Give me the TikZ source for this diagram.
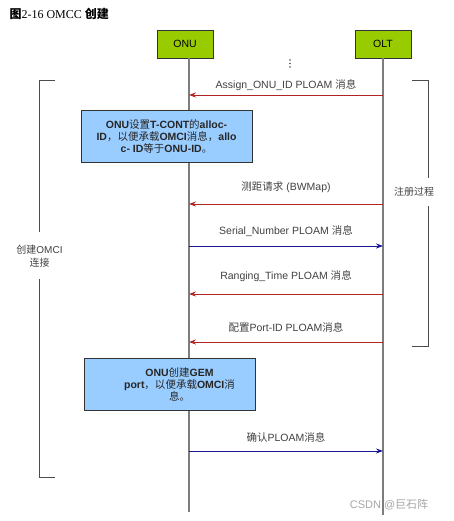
\documentclass[tikz,border=0pt]{standalone}
\usepackage{fontspec}
\setmainfont{Liberation Sans}
\newfontfamily\cjk{Noto Sans CJK SC}
\newfontfamily\capserif{Liberation Serif}
\usetikzlibrary{positioning,arrows.meta}

\definecolor{entitygreen}{RGB}{153,204,0}
\definecolor{notefill}{RGB}{153,204,255}
\definecolor{downred}{RGB}{176,36,36}
\definecolor{upblue}{RGB}{24,24,150}
\definecolor{lifegray}{RGB}{125,125,125}
\definecolor{labelgray}{RGB}{64,64,64}
\newcommand{\zh}[1]{{\cjk\mdseries #1}}

\tikzstyle{entity} = [rectangle, text centered, draw=black!80, fill=entitygreen, minimum width=56pt, minimum height=28pt, font=\fontsize{10.5}{12}\selectfont]
\tikzstyle{note} = [rectangle, align=center, draw=black!80, fill=notefill, minimum width=171pt, minimum height=52pt, text=black!85, font=\fontsize{10.5}{12}\selectfont\bfseries]
\tikzstyle{lifeline} = [draw=lifegray, line width=1.4pt]
\tikzstyle{arrow} = [line width=0.9pt,->,>={Stealth[length=7pt,width=5pt]}]
\tikzstyle{msg} = [text=labelgray, font=\fontsize{10.5}{12}\selectfont]
\tikzstyle{bracket} = [draw=black!70, line width=0.9pt]
\tikzstyle{group} = [align=center, text=labelgray, font=\fontsize{10}{13}\selectfont]

\begin{document}
\begin{tikzpicture}[x=1pt, y=-1pt, node distance=198pt]
  \useasboundingbox (0,0) rectangle (454,521);

  \node (title) [anchor=west, font=\fontsize{12}{14}\selectfont\capserif] at (6,14) {{\cjk\bfseries 图}2-16\ OMCC {\cjk\bfseries 创建}};

  \node (onu) [entity] at (185,44) {ONU};
  \node (olt) [entity, right of=onu] {OLT};
  % vertical ellipsis
  \fill [black!70] (290,60) circle (0.9) (290,63.5) circle (0.9) (290,67) circle (0.9);

  \coordinate (onutop) at (189,58);
  \coordinate (onuend) at (189,512);
  \coordinate (olttop) at (383,58);
  \coordinate (oltend) at (383,515);
  \draw [lifeline] (onutop) -- (onuend);
  \draw [lifeline] (olttop) -- (oltend);

  \coordinate (onu-assign) at (189,95);   \coordinate (olt-assign) at (383,95);
  \coordinate (onu-bwmap) at (189,204);   \coordinate (olt-bwmap) at (383,204);
  \coordinate (onu-serial) at (189,246);  \coordinate (olt-serial) at (383,246);
  \coordinate (onu-ranging) at (189,294); \coordinate (olt-ranging) at (383,294);
  \coordinate (onu-portid) at (189,342);  \coordinate (olt-portid) at (383,342);
  \coordinate (onu-ack) at (189,451);     \coordinate (olt-ack) at (383,451);

  \node (tcont) [note] at (166.5,136) {ONU\zh{设置}T-CONT\zh{的}alloc-\\ID\zh{，以便承载}OMCI\zh{消息，}allo\\c- ID\zh{等于}ONU-ID\zh{。}};
  \node (gemport) [note] at (169.5,384.5) {\hspace*{20pt}ONU\zh{创建}GEM\\\hspace*{20pt}port\zh{，以便承载}OMCI\zh{消}\\\hspace*{20pt}\zh{息。}};

  \draw [arrow, downred] (olt-assign) -- node[msg, above=1pt] {Assign\_ONU\_ID PLOAM \zh{消息}} (onu-assign);
  \draw [arrow, downred] (olt-bwmap) -- node[msg, above=8pt] {\zh{测距请求} (BWMap)} (onu-bwmap);
  \draw [arrow, upblue] (onu-serial) -- node[msg, above=6pt] {Serial\_Number PLOAM \zh{消息}} (olt-serial);
  \draw [arrow, downred] (olt-ranging) -- node[msg, above=9pt] {Ranging\_Time PLOAM \zh{消息}} (onu-ranging);
  \draw [arrow, downred] (olt-portid) -- node[msg, above=6pt] {\zh{配置}Port-ID PLOAM\zh{消息}} (onu-portid);
  \draw [arrow, upblue] (onu-ack) -- node[msg, above=5pt] {\zh{确认}PLOAM\zh{消息}} (olt-ack);

  \node (omci) [group] at (39.5,256) {\zh{创建}OMCI\\\zh{连接}};
  \draw [bracket] (55,80) -- (39.5,80) -- (39.5,232);
  \draw [bracket] (39.5,279) -- (39.5,477) -- (55,477);

  \node (register) [group] at (414,192) {\zh{注册过程}};
  \draw [bracket] (412,80) -- (428,80) -- (428,178);
  \draw [bracket] (428,206) -- (428,346) -- (412,346);

  \node (mark) [text=black!35, font=\fontsize{11}{13}\selectfont] at (389,505) {CSDN @\zh{巨石阵}};
\end{tikzpicture}
\end{document}
